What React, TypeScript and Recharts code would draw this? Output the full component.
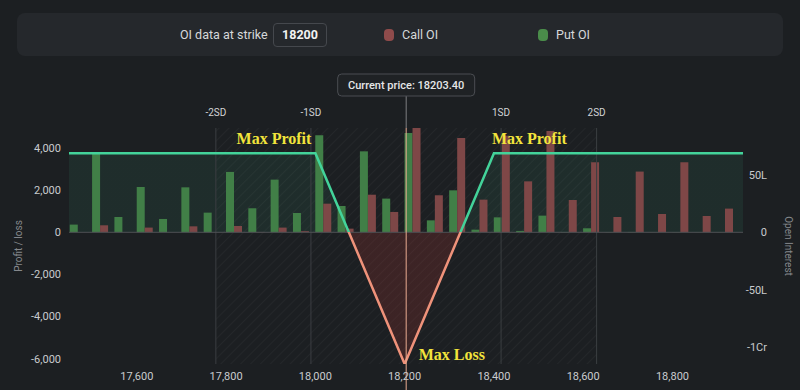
import { ComposedChart, XAxis, YAxis, Bar, Area, Line, ReferenceLine, ReferenceArea, ReferenceDot } from "recharts"

// Option chain open interest (in lakhs), one pair per strike
const strikes = [
  17450, 17500, 17550, 17600, 17650, 17700, 17750, 17800, 17850, 17900,
  17950, 18000, 18050, 18100, 18150, 18200, 18250, 18300, 18350, 18400,
  18450, 18500, 18550, 18600, 18650, 18700, 18750, 18800, 18850, 18900,
]
const putOI = [
  6.7, 69.8, 13.3, 39.4, 11.6, 39.1, 17.1, 52.5, 20.9, 45.8,
  16.8, 84.3, 22.9, 70.4, 29.3, 86.4, 10.4, 36.5, 2.3, 13.0,
  1.2, 14.5, 0.3, 3.5, 0.2, 0.3, 0.1, 0.2, 0.1, 0.1,
]
const callOI = [
  0, 6.1, 0, 4.1, 0, 5.2, 0, 5.5, 0.3, 4.1,
  1.0, 24.9, 3.2, 32.7, 17.7, 91.0, 32.2, 82.0, 28.4, 84.0,
  44.3, 88.0, 28.1, 60.9, 13.3, 52.8, 15.9, 60.9, 14.2, 20.6,
]

// Payoff of the strategy at expiry
const payoffPrices = [17448, 18000, 18200, 18400, 18958]
const payoffValues = [3750, 3750, -6250, 3750, 3750]

const spot = 18203.4
const selectedStrike = 18200
const sdPrices = [17777, 17990, 18416, 18630]
const sdLabels = ["-2SD", "-1SD", "1SD", "2SD"]

const priceTicks = [17600, 17800, 18000, 18200, 18400, 18600, 18800]
const pnlTicks = [-6000, -4000, -2000, 0, 2000, 4000]
const oiTicks = [-10000000, -5000000, 0, 5000000]

const W = 800
const H = 390
const X_DOMAIN: [number, number] = [17448, 18958]
const PNL_DOMAIN: [number, number] = [-6250, 4950]
const OI_PER_PNL = 1832
const OI_DOMAIN: [number, number] = [PNL_DOMAIN[0] * OI_PER_PNL, PNL_DOMAIN[1] * OI_PER_PNL]
// the put/call pair sits just to the right of its strike
const BAR_SHIFT = 18

const BG = "#1c1f22"
const PANEL = "#25282c"
const TICK = "#c9cbce"
const MUTED = "#85888c"
const GRID = "#3b3e42"
const PUT = "#417f47"
const CALL = "#7e4747"
const PROFIT = "#43d39a"
const LOSS = "#ef927a"
const SPOT_C = "#e9ab90"
const YELLOW = "#f2e43c"

const oiRows = strikes.map((strike, i) => ({ strike, put: putOI[i] * 100000, call: callOI[i] * 100000 }))
const payoffRows = payoffPrices.map((price, i) => ({ price, pnl: payoffValues[i] }))

const pMax = Math.max(...payoffValues)
const pMin = Math.min(...payoffValues)
const zeroAt = pMax / (pMax - pMin)

const fmtOI = (v: number) => {
  if (v === 0) return "0"
  if (Math.abs(v) >= 10000000) return `${v / 10000000}Cr`
  return `${v / 100000}L`
}

const OiTick = (props: any) => {
  const { x, y, payload } = props
  return (
    <text x={x + 16} y={y} dy="0.355em" textAnchor="end" fill={TICK} fontSize={11}>
      {fmtOI(payload.value)}
    </text>
  )
}

const AxisTitle = (props: any) => {
  const { viewBox, caption, side } = props
  const cx = side === "left" ? viewBox.x + 18 : viewBox.x + viewBox.width - 12
  const cy = viewBox.y + viewBox.height / 2
  return (
    <text
      x={cx}
      y={cy}
      transform={`rotate(${side === "left" ? -90 : 90}, ${cx}, ${cy})`}
      textAnchor="middle"
      dominantBaseline="central"
      fill={MUTED}
      fontSize={10}
    >
      {caption}
    </text>
  )
}

const Callout = (props: any) => {
  const { viewBox, caption, anchor, shiftX, shiftY } = props
  return (
    <text
      x={viewBox.x + shiftX}
      y={viewBox.y + shiftY}
      textAnchor={anchor}
      fill={YELLOW}
      fontSize={16}
      fontWeight={700}
      fontFamily="'Liberation Serif', 'DejaVu Serif', serif"
    >
      {caption}
    </text>
  )
}

const SpotLabel = (props: any) => {
  const { viewBox } = props
  const { x, y, height } = viewBox
  const w = 137
  const h = 22
  const top = 74
  return (
    <g>
      <line x1={x} x2={x} y1={top + h} y2={y} stroke="#7d7f82" />
      <line x1={x} x2={x} y1={y + height} y2={H} stroke={SPOT_C} />
      <rect x={x - w / 2} y={top} width={w} height={h} rx={4} fill="#1f2225" stroke="#4a4d52" />
      <text x={x} y={top + h / 2} dy="0.35em" textAnchor="middle" fill="#e6e7e8" fontSize={11} fontWeight={500}>
        Current price: {spot.toFixed(2)}
      </text>
    </g>
  )
}

const Header = () => (
  <div
    style={{
      position: "absolute",
      left: 17,
      top: 13,
      width: 766,
      height: 43,
      borderRadius: 8,
      background: PANEL,
      color: "#d6d8da",
      fontSize: 12.5,
    }}
  >
    <span style={{ position: "absolute", left: 163, top: 14 }}>OI data at strike</span>
    <div
      style={{
        position: "absolute",
        left: 256,
        top: 10,
        width: 52,
        height: 22,
        border: "1px solid #45484d",
        borderRadius: 4,
        fontWeight: 700,
        color: "#f2f2f2",
        textAlign: "center",
        lineHeight: "22px",
      }}
    >
      {selectedStrike}
    </div>
    <div style={{ position: "absolute", left: 367, top: 16, width: 10, height: 12, borderRadius: 4, background: "#8f4b4b" }} />
    <span style={{ position: "absolute", left: 385, top: 14 }}>Call OI</span>
    <div style={{ position: "absolute", left: 521, top: 16, width: 10, height: 12, borderRadius: 4, background: "#4a8c4a" }} />
    <span style={{ position: "absolute", left: 539, top: 14 }}>Put OI</span>
  </div>
)

export default function App() {
  return (
    <div
      style={{
        position: "fixed",
        left: 0,
        top: 0,
        width: W,
        height: H,
        background: BG,
        fontFamily: "Roboto, 'Noto Sans', sans-serif",
        overflow: "hidden",
      }}
    >
      <ComposedChart
        width={W}
        height={H}
        data={oiRows}
        margin={{ top: 128, right: 0, bottom: 0, left: 0 }}
        barGap={0}
        barSize={8}
      >
        <defs>
          <pattern id="hatch" width="7" height="7" patternUnits="userSpaceOnUse" patternTransform="rotate(45)">
            <line x1="0" y1="0" x2="0" y2="7" stroke="rgba(255,255,255,0.07)" strokeWidth="1" />
          </pattern>
          <linearGradient id="pnlStroke" x1="0" y1="0" x2="0" y2="1">
            <stop offset={zeroAt} stopColor={PROFIT} />
            <stop offset={zeroAt} stopColor={LOSS} />
          </linearGradient>
          <linearGradient id="pnlFill" x1="0" y1="0" x2="0" y2="1">
            <stop offset={zeroAt} stopColor="rgba(67,211,154,0.08)" />
            <stop offset={zeroAt} stopColor="rgba(190,55,50,0.2)" />
          </linearGradient>
        </defs>

        <XAxis
          xAxisId="price"
          type="number"
          dataKey="price"
          domain={X_DOMAIN}
          ticks={priceTicks}
          tickFormatter={(v) => v.toLocaleString("en-US")}
          axisLine={false}
          tickLine={false}
          tick={{ fill: TICK, fontSize: 11 }}
          height={26}
          allowDataOverflow
        />
        <XAxis
          xAxisId="oi"
          orientation="top"
          type="number"
          dataKey="strike"
          domain={[X_DOMAIN[0] - BAR_SHIFT, X_DOMAIN[1] - BAR_SHIFT]}
          height={0}
          hide
          allowDataOverflow
        />
        <YAxis
          yAxisId="pnl"
          type="number"
          domain={PNL_DOMAIN}
          ticks={pnlTicks}
          tickFormatter={(v) => v.toLocaleString("en-US")}
          axisLine={false}
          tickLine={false}
          tick={{ fill: TICK, fontSize: 11 }}
          width={69}
          allowDataOverflow
          label={<AxisTitle caption="Profit / loss" side="left" />}
        />
        <YAxis
          yAxisId="oi"
          orientation="right"
          type="number"
          domain={OI_DOMAIN}
          ticks={oiTicks}
          axisLine={false}
          tickLine={false}
          tick={<OiTick />}
          width={57}
          allowDataOverflow
          label={<AxisTitle caption="Open Interest" side="right" />}
        />

        <ReferenceArea
          xAxisId="price"
          yAxisId="pnl"
          x1={sdPrices[0]}
          x2={sdPrices[3]}
          fill="url(#hatch)"
          fillOpacity={1}
          stroke="none"
        />
        {sdPrices.map((p, i) => (
          <ReferenceLine
            key={sdLabels[i]}
            xAxisId="price"
            yAxisId="pnl"
            x={p}
            stroke={GRID}
            label={{ value: sdLabels[i], position: "top", offset: 12, fill: "#d2d4d6", fontSize: 10 }}
          />
        ))}

        <Area
          xAxisId="price"
          yAxisId="pnl"
          data={payoffRows}
          dataKey="pnl"
          type="linear"
          stroke="none"
          fill="url(#pnlFill)"
          fillOpacity={1}
          isAnimationActive={false}
        />
        <ReferenceLine xAxisId="price" yAxisId="pnl" y={0} stroke="#4d5054" />

        <Bar xAxisId="oi" yAxisId="oi" dataKey="put" fill={PUT} isAnimationActive={false} />
        <Bar xAxisId="oi" yAxisId="oi" dataKey="call" fill={CALL} isAnimationActive={false} />

        <Line
          xAxisId="price"
          yAxisId="pnl"
          data={payoffRows}
          dataKey="pnl"
          type="linear"
          stroke="url(#pnlStroke)"
          strokeWidth={2.5}
          dot={false}
          activeDot={false}
          isAnimationActive={false}
        />

        <ReferenceLine xAxisId="price" yAxisId="pnl" x={spot} stroke={SPOT_C} label={<SpotLabel />} />

        <ReferenceDot
          xAxisId="price"
          yAxisId="pnl"
          x={payoffPrices[1]}
          y={payoffValues[1]}
          r={0}
          stroke="none"
          fill="none"
          label={<Callout caption="Max Profit" anchor="end" shiftX={-4} shiftY={-9} />}
        />
        <ReferenceDot
          xAxisId="price"
          yAxisId="pnl"
          x={payoffPrices[3]}
          y={payoffValues[3]}
          r={0}
          stroke="none"
          fill="none"
          label={<Callout caption="Max Profit" anchor="start" shiftX={-2} shiftY={-9} />}
        />
        <ReferenceDot
          xAxisId="price"
          yAxisId="pnl"
          x={payoffPrices[2]}
          y={payoffValues[2]}
          r={0}
          stroke="none"
          fill="none"
          label={<Callout caption="Max Loss" anchor="start" shiftX={14} shiftY={-4} />}
        />
      </ComposedChart>
      <Header />
    </div>
  )
}
